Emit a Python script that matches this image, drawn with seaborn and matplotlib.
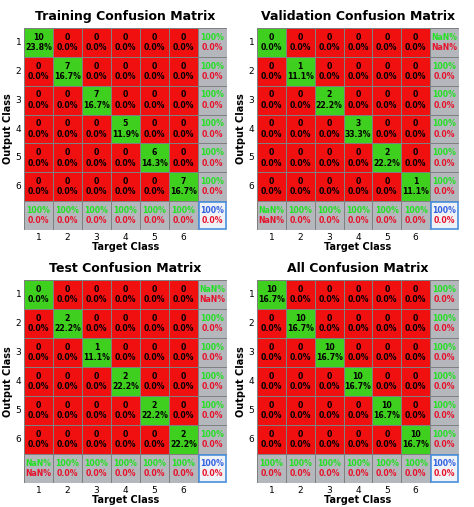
import numpy as np
import matplotlib
matplotlib.use("Agg")
import matplotlib.pyplot as plt
import seaborn as sns
from matplotlib.colors import ListedColormap
from matplotlib.patches import Rectangle

classes = ["1", "2", "3", "4", "5", "6"]
titles = ["Training Confusion Matrix", "Validation Confusion Matrix",
          "Test Confusion Matrix", "All Confusion Matrix"]
diag_counts = [[10, 7, 7, 5, 6, 7], [0, 1, 2, 3, 2, 1], [0, 2, 1, 2, 2, 2], [10, 10, 10, 10, 10, 10]]
diag_pcts = [["23.8%", "16.7%", "16.7%", "11.9%", "14.3%", "16.7%"],
             ["0.0%", "11.1%", "22.2%", "33.3%", "22.2%", "11.1%"],
             ["0.0%", "22.2%", "11.1%", "22.2%", "22.2%", "22.2%"],
             ["16.7%"] * 6]
row_good = [["100%"] * 6, ["NaN%"] + ["100%"] * 5, ["NaN%"] + ["100%"] * 5, ["100%"] * 6]
row_bad = [["0.0%"] * 6, ["NaN%"] + ["0.0%"] * 5, ["NaN%"] + ["0.0%"] * 5, ["0.0%"] * 6]
col_good = row_good
col_bad = row_bad
total_good = ["100%"] * 4
total_bad = ["0.0%"] * 4

W, H = 474, 507
fig = plt.figure(figsize=(W / 100, H / 100), dpi=100)
boxes = [(24, 28, 203, 202), (257, 28, 202, 202), (24, 280, 203, 203), (257, 280, 202, 203)]
cmap = ListedColormap(["#f01010", "#3fcf1f", "#b4b8bc", "#eef2f6"])
green_t, red_t, blue_t = "#22e022", "#e8102a", "#3060e0"
fs = 5.6

for k in range(4):
    x, y, w, h = boxes[k]
    ax = fig.add_axes([x / W, 1 - (y + h) / H, w / W, h / H])
    m = np.zeros((7, 7))
    for i in range(6):
        m[i, i] = 1
    m[6, :] = 2
    m[:, 6] = 2
    m[6, 6] = 3
    sns.heatmap(m, ax=ax, cmap=cmap, vmin=-0.5, vmax=3.5, cbar=False,
                linewidths=0.6, linecolor="#808080", square=False,
                xticklabels=classes + [""], yticklabels=classes + [""])
    for i in range(6):
        for j in range(6):
            c = diag_counts[k][i] if i == j else 0
            p = diag_pcts[k][i] if i == j else "0.0%"
            ax.text(j + 0.5, i + 0.5, f"{c}\n{p}", ha="center", va="center",
                    fontsize=fs, fontweight="bold", color="black", linespacing=1.2)
        ax.text(6.5, i + 0.32, row_good[k][i], ha="center", va="center",
                fontsize=fs, fontweight="bold", color=green_t)
        ax.text(6.5, i + 0.68, row_bad[k][i], ha="center", va="center",
                fontsize=fs, fontweight="bold", color=red_t)
        ax.text(i + 0.5, 6.32, col_good[k][i], ha="center", va="center",
                fontsize=fs, fontweight="bold", color=green_t)
        ax.text(i + 0.5, 6.68, col_bad[k][i], ha="center", va="center",
                fontsize=fs, fontweight="bold", color=red_t)
    ax.text(6.5, 6.32, total_good[k], ha="center", va="center",
            fontsize=fs, fontweight="bold", color=blue_t)
    ax.text(6.5, 6.68, total_bad[k], ha="center", va="center",
            fontsize=fs, fontweight="bold", color=red_t)
    ax.add_patch(Rectangle((6.03, 6.03), 0.94, 0.94, fill=False, ec="#4a90e0", lw=1.2))
    ax.tick_params(length=0, labelsize=6.5, pad=2)
    ax.set_yticklabels(classes + [""], rotation=0)
    ax.set_xlabel("Target Class", fontsize=7, fontweight="bold", labelpad=0)
    ax.set_ylabel("Output Class", fontsize=7, fontweight="bold", labelpad=2)
    ax.set_title(titles[k], fontsize=9, fontweight="bold", pad=6)

fig.savefig("out.png", dpi=100)
